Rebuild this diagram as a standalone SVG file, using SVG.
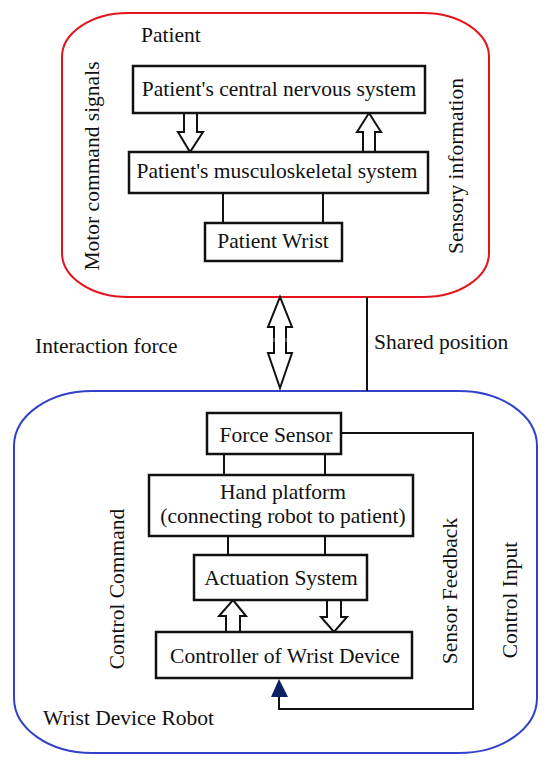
<svg xmlns="http://www.w3.org/2000/svg" width="550" height="766" viewBox="0 0 550 766">
<style>
text{font-family:"Liberation Serif","Times New Roman",serif;font-size:21.5px;fill:#111}
.box{fill:#fff;stroke:#111;stroke-width:2.5}
.ln{fill:none;stroke:#111;stroke-width:2}
.harrow{fill:#fff;stroke:#111;stroke-width:2;stroke-linejoin:miter}
.mid{text-anchor:middle}
</style>
<rect x="0" y="0" width="550" height="766" fill="#fff"/>
<g id="patient-container">
<rect x="62" y="13" width="427" height="284" rx="66" ry="44" fill="none" stroke="#e3141c" stroke-width="2"/>
<text x="141" y="42">Patient</text>
<text class="mid" transform="translate(99,166) rotate(-90)">Motor command signals</text>
<text class="mid" transform="translate(463,166) rotate(-90)">Sensory information</text>
</g>
<g id="robot-container">
<rect x="14" y="391" width="523" height="362" rx="78" ry="55" fill="none" stroke="#3341c9" stroke-width="2"/>
<text x="43" y="725">Wrist Device Robot</text>
<text class="mid" transform="translate(124,589) rotate(-90)">Control Command</text>
<text class="mid" transform="translate(457,591) rotate(-90)">Sensor Feedback</text>
<text class="mid" transform="translate(517,600) rotate(-90)">Control Input</text>
</g>
<g id="connectors">
<line class="ln" x1="223" y1="193" x2="223" y2="223"/>
<line class="ln" x1="323" y1="193" x2="323" y2="223"/>
<polygon class="harrow" points="184,113 197,113 197,132 203,132 190,152 178,132 184,132"/>
<polygon class="harrow" points="369,113 381,132 375,132 375,152 363,152 363,132 357,132"/>
<path class="harrow" d="M274,338 V327 H268 L280,297 L292,327 H286 V338"/>
<path class="harrow" d="M274,342 V353 H268 L280,388 L292,353 H286 V342"/>
<line x1="274" y1="338" x2="274" y2="342" stroke="#111" stroke-width="1.5"/>
<line x1="286" y1="338" x2="286" y2="342" stroke="#111" stroke-width="1.5"/>
<line class="ln" x1="367" y1="297" x2="367" y2="391"/>
<text x="374" y="349">Shared position</text>
<text x="35" y="353">Interaction force</text>
<line class="ln" x1="224" y1="454" x2="224" y2="475"/>
<line class="ln" x1="325" y1="454" x2="325" y2="475"/>
<line class="ln" x1="228" y1="536" x2="228" y2="555"/>
<line class="ln" x1="325" y1="536" x2="325" y2="555"/>
<polygon class="harrow" points="233,600 246,616 240,616 240,632 226,632 226,616 219,616"/>
<polygon class="harrow" points="327,600 341,600 341,617 347,617 334,632 321,617 327,617"/>
<polyline class="ln" points="341,433 473,433 473,709 279,709 279,696"/>
<polygon points="279,679 288,697 271,697" fill="#0b2163"/>
</g>
<g id="cns">
<rect class="box" x="133" y="66" width="292" height="47"/>
<text class="mid" x="279" y="96">Patient's central nervous system</text>
</g>
<g id="musculoskeletal">
<rect class="box" x="129" y="152" width="299" height="41"/>
<text class="mid" x="277" y="178">Patient's musculoskeletal system</text>
</g>
<g id="patient-wrist">
<rect class="box" x="205" y="223" width="137" height="38"/>
<text class="mid" x="273" y="248">Patient Wrist</text>
</g>
<g id="force-sensor">
<rect class="box" x="207" y="413" width="134" height="41"/>
<text class="mid" x="276" y="442">Force Sensor</text>
</g>
<g id="hand-platform">
<rect class="box" x="149" y="475" width="264" height="61"/>
<text class="mid" x="283" y="499">Hand platform</text>
<text class="mid" x="283" y="523">(connecting robot to patient)</text>
</g>
<g id="actuation">
<rect class="box" x="194" y="555" width="173" height="45"/>
<text class="mid" x="281" y="585">Actuation System</text>
</g>
<g id="controller">
<rect class="box" x="156" y="632" width="256" height="46"/>
<text class="mid" x="285" y="663">Controller of Wrist Device</text>
</g>
</svg>
